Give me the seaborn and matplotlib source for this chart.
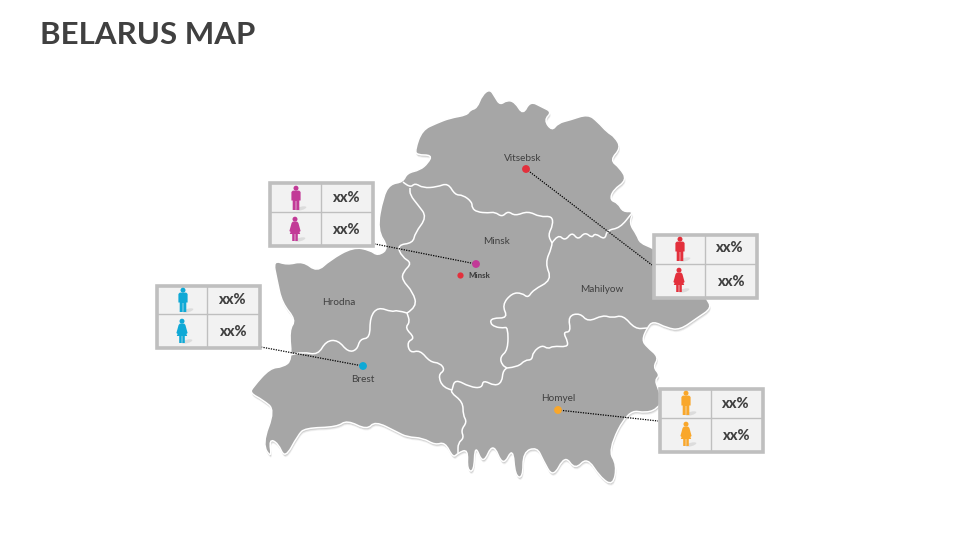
import matplotlib
matplotlib.use('Agg')
import matplotlib.pyplot as plt
import seaborn as sns
from matplotlib.patches import Circle, Ellipse, PathPatch, Polygon, Rectangle
from matplotlib.path import Path

# Map, in slide pixels
outline = [
    (403, 182), (407, 173), (420, 170), (428, 163), (432, 155), (417, 155), (415, 150), (422, 130),
    (437, 123), (450, 118), (467, 115), (470, 110), (477, 108), (482, 95), (490, 89), (495, 97),
    (500, 105), (507, 100), (515, 102), (523, 115), (530, 101), (542, 107), (552, 112), (544, 120),
    (552, 131), (558, 123), (570, 120), (588, 114), (598, 122), (607, 132), (615, 137), (621, 148),
    (610, 160), (620, 168), (627, 180), (613, 190), (610, 200), (618, 203), (623, 212), (634, 211),
    (629, 223), (637, 235), (640, 243), (653, 248), (690, 270), (706, 298), (712, 308), (697, 318),
    (680, 330), (667, 328), (653, 321), (647, 328), (642, 340), (647, 347), (659, 357), (653, 367),
    (660, 375), (655, 380), (658, 388), (662, 400), (658, 408), (647, 413), (628, 410), (608, 450),
    (617, 465), (613, 486), (600, 477), (587, 457), (575, 470), (565, 455), (553, 478), (543, 460),
    (537, 447), (523, 452), (523, 478), (515, 476), (513, 447), (503, 467), (493, 442), (483, 465),
    (475, 444), (474, 472), (467, 470), (468, 449), (458, 453), (453, 458), (445, 442), (435, 445),
    (423, 438), (407, 437), (397, 432), (375, 421), (367, 430), (347, 420), (337, 427), (305, 428),
    (298, 435), (285, 459), (278, 443), (269, 439), (272, 459), (262, 444), (275, 410), (263, 400),
    (250, 393), (253, 387), (270, 368), (283, 367), (292, 360), (289, 330), (296, 320), (282, 303),
    (277, 280), (273, 260), (287, 265), (303, 261), (317, 272), (330, 260), (353, 247), (370, 250),
    (378, 256), (389, 248), (377, 230), (383, 197), (390, 184),
]
vitsebsk_minsk = [
    (403, 182), (410, 188), (415, 183), (423, 188), (437, 187), (448, 183), (455, 195), (463, 195),
    (472, 202), (472, 208), (477, 212), (488, 213), (495, 212), (502, 217), (508, 211), (515, 216),
    (528, 211), (540, 217), (552, 216), (553, 225), (548, 235), (552, 243),
]
vitsebsk_mahilyow = [
    (552, 243), (558, 234), (565, 241), (572, 232), (578, 240), (585, 232), (592, 238), (595, 233),
    (605, 240), (607, 230), (620, 228), (632, 213),
]
minsk_mahilyow = [
    (552, 243), (552, 247), (545, 263), (552, 280), (533, 290), (528, 298), (522, 293), (512, 293),
    (502, 305), (508, 318), (492, 318), (490, 323), (495, 327), (503, 328), (508, 327), (508, 350),
    (500, 357), (502, 365), (507, 368),
]
mahilyow_homyel = [
    (507, 368), (518, 367), (525, 360), (532, 360), (533, 352), (542, 345), (548, 349), (553, 346),
    (567, 347), (568, 342), (563, 332), (571, 332), (568, 316), (580, 313), (588, 322), (603, 315),
    (612, 318), (623, 315), (635, 329), (647, 328),
]
minsk_homyel = [
    (507, 368), (503, 370), (502, 382), (495, 386), (483, 380), (482, 388), (470, 387), (455, 379),
    (452, 390),
]
homyel_brest = [
    (452, 390), (450, 392), (463, 402), (463, 415), (467, 422), (461, 430), (464, 438), (458, 443),
    (458, 453),
]
minsk_brest = [
    (452, 390), (443, 388), (438, 375), (445, 370), (440, 363), (430, 362), (420, 350), (410, 353),
    (407, 342), (415, 338), (405, 328), (410, 322), (407, 313),
]
hrodna_brest = [
    (407, 313), (397, 310), (392, 312), (378, 307), (370, 317), (370, 338), (360, 339), (357, 350),
    (348, 352), (338, 340), (326, 341), (318, 355), (303, 352), (290, 355),
]
minsk_hrodna = [
    (407, 313), (417, 307), (413, 292), (402, 280), (403, 272), (412, 263), (402, 257), (397, 245),
    (413, 243), (415, 233), (427, 217), (418, 205), (410, 195), (410, 188),
]
borders = [vitsebsk_minsk, vitsebsk_mahilyow, minsk_mahilyow, mahilyow_homyel, minsk_homyel,
           homyel_brest, minsk_brest, hrodna_brest, minsk_hrodna]

region_names = ['Vitsebsk', 'Minsk', 'Mahilyow', 'Hrodna', 'Brest', 'Homyel']
region_x = [523, 496, 602, 339, 363, 558]
region_y = [158.5, 241.5, 289.5, 302.5, 379, 398.5]

dot_x = [526, 476, 363, 558]
dot_y = [169, 264, 366, 410]
dot_colors = ['#E3303C', '#C23A97', '#0FA9D6', '#F9A72B']
leader_end_x = [652, 375, 261, 658]
leader_end_y = [265, 244, 347, 421]

# left, top, right, bottom, column line, row line
box_edges = [(652, 233, 758, 299, 705, 264), (268, 181, 374, 247, 321, 212),
             (155, 284, 261, 349, 207, 314), (658, 387, 764, 453, 711, 418)]
man_xy = [(680, 249), (296, 198), (183, 300), (686, 403)]
woman_xy = [(679, 280), (295, 229), (182, 331), (686, 434)]
value_text = 'xx%'
value_top_xy = [(729, 248.5), (346, 198.5), (232, 300.5), (735, 403.5)]
value_low_xy = [(731, 281.5), (346, 230.5), (233, 332.5), (736, 435.5)]

man_body = [(-3.2, -7.4), (3.2, -7.4), (4.6, -6), (4.6, 2.5), (3.3, 2.5), (3.3, 12), (0.3, 12), (0.3, 3),
            (-0.3, 3), (-0.3, 12), (-3.3, 12), (-3.3, 2.5), (-4.6, 2.5), (-4.6, -6)]
woman_body = [(-2.2, -7.4), (2.2, -7.4), (3.4, -6), (5.6, 2), (4.4, 3), (3.2, 0), (5.2, 5), (2.8, 5),
              (2.8, 12), (0.3, 12), (0.3, 5), (-0.3, 5), (-0.3, 12), (-2.8, 12), (-2.8, 5),
              (-5.2, 5), (-3.2, 0), (-4.4, 3), (-5.6, 2), (-3.4, -6)]


def smooth_path(points, closed=False):
    # round the traced corners, using the traced points as curve controls
    mid = [((a[0] + b[0]) / 2, (a[1] + b[1]) / 2) for a, b in zip(points, points[1:] + points[:1])]
    if closed:
        verts = [mid[-1]]
        codes = [Path.MOVETO]
        for p, m in zip(points, mid):
            verts += [p, m]
            codes += [Path.CURVE3, Path.CURVE3]
        return Path(verts, codes)
    verts = [points[0]]
    codes = [Path.MOVETO]
    for p, m in zip(points[1:-1], mid[1:-1]):
        verts += [p, m]
        codes += [Path.CURVE3, Path.CURVE3]
    verts.append(points[-1])
    codes.append(Path.LINETO)
    return Path(verts, codes)


sns.set_theme(style='white')
plt.rcParams['font.family'] = ['Lato', 'DejaVu Sans']

fig = plt.figure(figsize=(9.6, 5.4), dpi=100)
ax = fig.add_axes([0, 0, 1, 1])

# soft shadow under the map, then the map itself
for off, alpha in [(3.0, 0.08), (2.2, 0.14), (1.4, 0.2)]:
    shifted = [(x + off * 0.3, y + off) for x, y in outline]
    ax.add_patch(PathPatch(smooth_path(shifted, closed=True), fc='#707070', ec='none', alpha=alpha, zorder=1))
ax.add_patch(PathPatch(smooth_path(outline, closed=True), fc='#A6A6A6', ec='white', lw=1.1, zorder=2))

for border in borders:
    ax.add_patch(PathPatch(smooth_path(border), fc='none', ec='white', lw=1.1, zorder=3))

for name, x, y in zip(region_names, region_x, region_y):
    ax.text(x, y, name, fontsize=7.2, color='#404040', ha='center', va='center', zorder=5)

for i in range(len(dot_x)):
    sns.lineplot(x=[dot_x[i], leader_end_x[i]], y=[dot_y[i], leader_end_y[i]], sort=False, estimator=None,
                 color='black', linewidth=0.9, linestyle=(0, (1, 1)), ax=ax, zorder=4)
sns.scatterplot(x=dot_x, y=dot_y, hue=dot_colors, palette={c: c for c in dot_colors}, s=32,
                linewidth=0, legend=False, ax=ax, zorder=6)

# the extra Minsk city marker
sns.scatterplot(x=[460], y=[275], color='#E3303C', s=20, linewidth=0, ax=ax, zorder=6)
ax.text(468, 275.5, 'Minsk', fontsize=5.6, fontweight='black', color='#404040', va='center', zorder=6)


def draw_person(xy, body, color):
    cx, cy = xy
    ax.add_patch(Ellipse((cx + 5, cy + 10.5), 11, 3.5, angle=-15, fc='#BDBDBD', ec='none', alpha=0.4, zorder=8))
    ax.add_patch(Circle((cx, cy - 9.8), 2.5, fc=color, ec='none', zorder=9))
    ax.add_patch(Polygon([(cx + a, cy + b) for a, b in body], closed=True, fc=color, ec='none', zorder=9))


for i, (left, top, right, bottom, col, row) in enumerate(box_edges):
    ax.add_patch(Rectangle((left + 1.5, top + 1.5), right - left - 3, bottom - top - 3, fc='#F2F2F2',
                           ec='#BFBFBF', lw=2.6, joinstyle='miter', zorder=7))
    ax.plot([col, col], [top + 2, bottom - 2], color='#BFBFBF', lw=1.0, solid_capstyle='butt', zorder=8)
    ax.plot([left + 2, right - 2], [row, row], color='#BFBFBF', lw=1.0, solid_capstyle='butt', zorder=8)
    draw_person(man_xy[i], man_body, dot_colors[i])
    draw_person(woman_xy[i], woman_body, dot_colors[i])
    for px, py in (value_top_xy[i], value_low_xy[i]):
        ax.text(px, py, value_text, fontsize=10.5, fontweight='black', color='#404040',
                ha='center', va='center', zorder=9)

ax.text(40, 34.5, 'BELARUS MAP', fontsize=22.5, fontweight='bold', color='#404040', va='center')

ax.set_xlim(0, 960)
ax.set_ylim(540, 0)
ax.axis('off')
fig.savefig('out.png', dpi=100, facecolor='white')
